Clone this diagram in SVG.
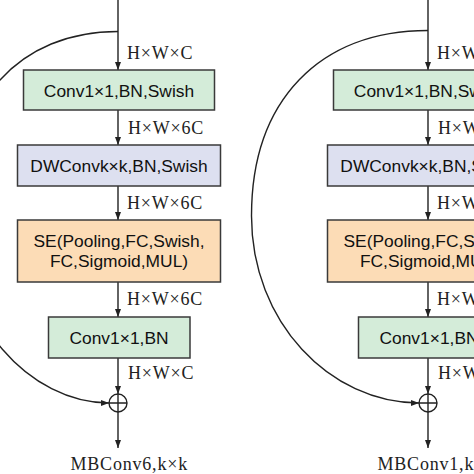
<svg xmlns="http://www.w3.org/2000/svg" width="474" height="474" viewBox="0 0 474 474">
<style>
.box{stroke:#3a3a3a;stroke-width:1.5}
.g{fill:#d4ecd9}
.p{fill:#dde0f0}
.o{fill:#fcdcb6}
.t{font-family:"Liberation Sans",Arial,sans-serif;font-size:17.4px;fill:#111;text-anchor:middle}
.l{font-family:"Liberation Serif","Times New Roman",serif;font-size:18px;fill:#222;letter-spacing:0.8px}
.c{fill:none;stroke:#222;stroke-width:1.4}
.ar{marker-end:url(#ah)}
</style>
<defs>
<marker id="ah" viewBox="0 0 8 6" refX="8" refY="3" markerWidth="8" markerHeight="6" orient="auto" markerUnits="userSpaceOnUse">
<path d="M0,0 L8,3 L0,6 z" fill="#222"/>
</marker>
</defs>
<g id="connectors">
<line class="c ar" x1="118" y1="0" x2="118" y2="70"/>
<line class="c ar" x1="118" y1="110" x2="118" y2="145"/>
<line class="c ar" x1="118" y1="186" x2="118" y2="220"/>
<line class="c ar" x1="118" y1="282" x2="118" y2="317"/>
<line class="c ar" x1="118" y1="358" x2="118" y2="394"/>
<line class="c ar" x1="118" y1="412" x2="118" y2="448"/>
<path class="c ar" d="M118,31.5 C20,31.5 -45,100 -45,216 C-45,322 30,403 109,403"/>
<line class="c ar" x1="428" y1="0" x2="428" y2="70"/>
<line class="c ar" x1="428" y1="110" x2="428" y2="145"/>
<line class="c ar" x1="428" y1="186" x2="428" y2="220"/>
<line class="c ar" x1="428" y1="282" x2="428" y2="317"/>
<line class="c ar" x1="428" y1="358" x2="428" y2="394"/>
<line class="c ar" x1="428" y1="412" x2="428" y2="448"/>
<path class="c ar" d="M428,30.5 C320,30.5 251.5,100 251.5,216 C251.5,322 330,403 419,403"/>
</g>
<g id="labels">
<text class="l" x="127" y="58.5">H×W×C</text>
<text class="l" x="128" y="133.5">H×W×6C</text>
<text class="l" x="127" y="208.5">H×W×6C</text>
<text class="l" x="127" y="305">H×W×6C</text>
<text class="l" x="128" y="379">H×W×C</text>
<text class="l" x="70.5" y="469.5">MBConv6,k×k</text>
<text class="l" x="437" y="58.5">H×W×C</text>
<text class="l" x="438" y="133.5">H×W×6C</text>
<text class="l" x="437" y="208.5">H×W×6C</text>
<text class="l" x="437" y="305">H×W×6C</text>
<text class="l" x="438" y="379">H×W×C</text>
<text class="l" x="377.5" y="469.5">MBConv1,k×k</text>
</g>
<g id="L_conv1">
<rect class="box g" x="23.5" y="70" width="191" height="40"/>
<text class="t" x="119" y="96.5">Conv1×1,BN,Swish</text>
</g>
<g id="L_dw">
<rect class="box p" x="17.5" y="145" width="203" height="41"/>
<text class="t" x="119" y="172">DWConvk×k,BN,Swish</text>
</g>
<g id="L_se">
<rect class="box o" x="17.5" y="220" width="203" height="62"/>
<text class="t" x="119" y="246.5">SE(Pooling,FC,Swish,</text>
<text class="t" x="119" y="267">FC,Sigmoid,MUL)</text>
</g>
<g id="L_conv2">
<rect class="box g" x="48.5" y="317" width="141.5" height="41"/>
<text class="t" x="119" y="343.5">Conv1×1,BN</text>
</g>
<g id="L_add">
<circle cx="118" cy="403" r="9" fill="none" stroke="#222" stroke-width="1.4"/>
<path d="M109,403 H127 M118,394 V412" stroke="#222" stroke-width="1.4"/>
</g>
<g id="R_conv1">
<rect class="box g" x="333.5" y="70" width="191" height="40"/>
<text class="t" x="429" y="96.5">Conv1×1,BN,Swish</text>
</g>
<g id="R_dw">
<rect class="box p" x="327.5" y="145" width="203" height="41"/>
<text class="t" x="429" y="172">DWConvk×k,BN,Swish</text>
</g>
<g id="R_se">
<rect class="box o" x="327.5" y="220" width="203" height="62"/>
<text class="t" x="429" y="246.5">SE(Pooling,FC,Swish,</text>
<text class="t" x="429" y="267">FC,Sigmoid,MUL)</text>
</g>
<g id="R_conv2">
<rect class="box g" x="358.5" y="317" width="141.5" height="41"/>
<text class="t" x="429" y="343.5">Conv1×1,BN</text>
</g>
<g id="R_add">
<circle cx="428" cy="403" r="9" fill="none" stroke="#222" stroke-width="1.4"/>
<path d="M419,403 H437 M428,394 V412" stroke="#222" stroke-width="1.4"/>
</g>
</svg>
